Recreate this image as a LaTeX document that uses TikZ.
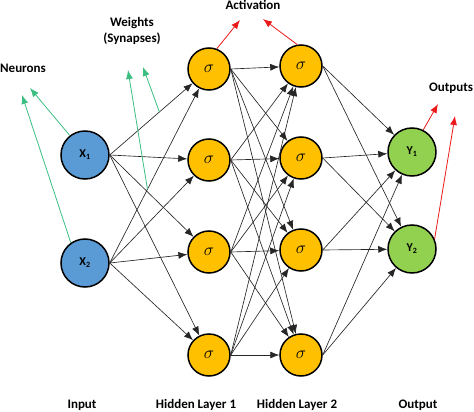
\documentclass[tikz,border=0pt]{standalone}
\usepackage{fontspec}
\setmainfont{Carlito}
\usetikzlibrary{arrows.meta,calc}
\definecolor{inblue}{RGB}{91,155,213}
\definecolor{hidyellow}{RGB}{255,192,0}
\definecolor{outgreen}{RGB}{146,208,80}
\definecolor{notegreen}{RGB}{60,190,130}
\definecolor{notered}{RGB}{235,25,25}
\tikzset{
    % Define style for neurons
    neuron/.style={
           circle,
           draw=black, line width=1.5pt,
           inner sep=0pt,
           font=\fontsize{12}{14}\selectfont\bfseries},
    innode/.style={neuron, fill=inblue, minimum size=48pt},
    hidnode/.style={neuron, fill=hidyellow, minimum size=42pt,
           font=\fontsize{18}{20}\selectfont},
    outnode/.style={neuron, fill=outgreen, minimum size=48pt},
    % Define arrow styles
    wire/.style={
           -{Latex[length=9pt,width=7pt]},
           draw=black!85,
           line width=0.65pt},
    note/.style={
           -{Latex[length=9pt,width=7pt]},
           line width=0.8pt},
    % Define style for captions
    caption/.style={
           font=\fontsize{13}{16}\selectfont\bfseries,
           align=center}
}
\newcommand*{\hnode}[3]{\node[hidnode] (#1) at (#2,#3) {$\sigma$};}

\begin{document}
\begin{tikzpicture}[x=1pt,y=-1pt]
\useasboundingbox (0,0) rectangle (474,412);

% Input layer
\node[innode] (x1) at (85,155) {X\textsubscript{1}};
\node[innode] (x2) at (85,263) {X\textsubscript{2}};

% Hidden layers
\hnode{a1}{209}{69}
\hnode{a2}{209}{160}
\hnode{a3}{209}{252}
\hnode{a4}{209}{355}
\hnode{b1}{301}{66}
\hnode{b2}{301}{158}
\hnode{b3}{301}{250}
\hnode{b4}{301}{355}

% Output layer
\node[outnode] (y1) at (412,152) {Y\textsubscript{1}};
\node[outnode] (y2) at (412,249) {Y\textsubscript{2}};

% Now connect the layers
\foreach \i in {1,2}
  \foreach \j in {1,...,4}
    \draw[wire] (x\i.east) -- (a\j);
\foreach \i in {1,...,4}
  \foreach \j in {1,...,4}
    \draw[wire] (a\i.east) -- (b\j);
\foreach \i in {1,...,4}
  \foreach \j in {1,2}
    \draw[wire] (b\i.east) -- (y\j);

% Captions
\node[caption] (neurons) at (23,68) {Neurons};
\node[caption] (weights) at (132,31) {Weights\\(Synapses)};
\node[caption] (activ) at (253,5) {Activation};
\node[caption] (outs) at (451,88) {Outputs};
\node[caption] (lin) at (82,405) {Input};
\node[caption] (lh1) at (196,405) {Hidden Layer 1};
\node[caption] (lh2) at (297,405) {Hidden Layer 2};
\node[caption] (lout) at (418,405) {Output};

% Pointers to the captions
\coordinate (n1) at (30,88);
\coordinate (n2) at (22,95);
\coordinate (w1) at ($(x1.east)!0.5!(a1)$);
\coordinate (w2) at ($(x2.east)!0.38!(a1)$);
\coordinate (wt1) at (143,67);
\coordinate (wt2) at (128,70);
\coordinate (t1) at (240,20);
\coordinate (t2) at (263,19);
\coordinate (o1) at (438,104);
\coordinate (o2) at (455,116);

\draw[note, notegreen] (x1.128) -- (n1);
\draw[note, notegreen] (x2.125) -- (n2);
\draw[note, notegreen] (w1) -- (wt1);
\draw[note, notegreen] (w2) -- (wt2);
\draw[note, notered] (a1.69) -- (t1);
\draw[note, notered] (b1.100) -- (t2);
\draw[note, notered] (y1.63) -- (o1);
\draw[note, notered] (y2.24) -- (o2);
\end{tikzpicture}
\end{document}
